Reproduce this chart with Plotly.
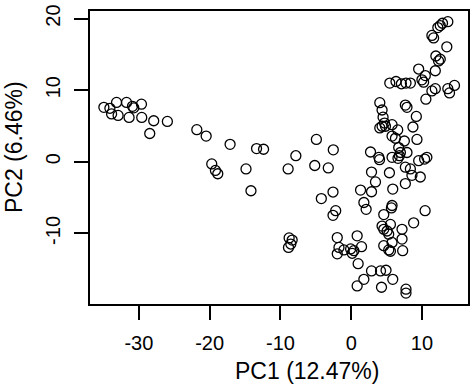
import plotly.graph_objects as go

pc1 = [-34.94, -34.09, -33.15, -31.74, -30.90, -30.72, -29.63, -33.85, -32.93, -31.38,
       -29.59, -27.90, -25.97, -28.46, -21.81, -20.49, -17.11, -19.70, -19.18, -18.85,
       -13.37, -12.38, -14.86, -14.16, -7.82, -8.91, -4.92, -2.53, -5.15, -3.24,
       -2.57, -4.22, -2.19, -2.57, -8.77, -8.34, -8.53, -8.86, 13.65, 12.90,
       12.58, 12.24, 11.40, 11.64, 13.51, 11.96, 12.58, 12.34, 9.53, 10.47,
       11.88, 9.99, 10.23, 5.45, 6.33, 7.09, 7.74, 8.36, 11.88, 11.40,
       13.65, 14.59, 13.89, 10.55, 4.04, 4.36, 4.50, 4.70, 4.04, 4.36,
       4.84, 5.77, 7.65, 7.88, 9.20, 8.72, 6.57, 5.77, 6.25, 7.51,
       9.29, 2.73, 3.90, 4.00, 6.71, 6.95, 6.81, 6.61, 5.77, 7.88,
       10.69, 10.37, 9.53, 7.65, 8.36, 8.58, 9.76, 7.65, 2.87, 5.40,
       3.43, 1.32, 2.87, 5.87, 1.79, 2.11, 5.77, 5.68, 8.82, 4.60,
       4.36, 4.60, 5.07, 5.54, 5.30, 7.18, 7.18, 7.27, 5.77, 4.60,
       5.30, 5.54, -1.97, 0.84, -1.73, -1.03, -1.97, -0.08, 0.38, 0.14,
       1.46, 0.98, 2.87, 4.14, 4.92, 1.79, 0.84, 5.87, 4.28, 7.74,
       7.74, 10.44]

pc2 = [7.60, 7.47, 8.29, 8.29, 7.74, 7.53, 8.05, 6.68, 6.47, 6.19,
       6.19, 5.73, 5.64, 3.95, 4.49, 3.59, 2.44, -0.30, -1.21, -1.67,
       1.85, 1.75, -0.99, -4.04, 0.85, -0.99, 3.12, 1.67, -0.52, -0.85,
       -4.22, -5.14, -6.82, -7.47, -10.62, -10.93, -11.48, -11.95, 19.56, 19.34,
       19.01, 18.74, 17.64, 17.29, 16.05, 14.77, 14.32, 14.08, 12.95, 12.03,
       12.71, 11.44, 11.12, 10.99, 11.21, 10.89, 10.99, 10.99, 10.21, 9.89,
       10.21, 10.66, 9.62, 8.74, 8.25, 7.23, 6.23, 5.41, 4.73, 4.96,
       4.96, 5.18, 7.92, 7.60, 6.33, 4.86, 4.45, 3.59, 3.29, 2.90,
       3.12, 1.37, 0.62, 0.30, 1.99, 1.30, 0.85, 0.48, 0.62, 1.30,
       0.62, 0.38, 0.16, -0.75, -0.99, -1.89, -2.12, -3.04, -1.44, -1.53,
       -2.81, -3.95, -4.18, -3.81, -5.68, -6.64, -6.10, -6.44, -8.52, -7.37,
       -8.97, -9.42, -9.66, -8.74, -10.11, -9.42, -10.79, -12.40, -11.26, -11.71,
       -12.30, -12.49, -10.58, -10.34, -11.95, -12.30, -12.85, -12.16, -12.40, -12.77,
       -11.85, -14.22, -15.23, -15.23, -15.14, -16.41, -17.33, -16.41, -17.51, -17.78,
       -18.33, -6.82]

x_tick_vals = [-30, -20, -10, 0, 10]
x_tick_text = ["-30", "-20", "-10", "0", "10"]
y_tick_vals = [-10, 0, 10, 20]
y_tick_text = ["-10", "0", "10", "20"]
x_title = "PC1 (12.47%)"
y_title = "PC2 (6.46%)"

FONT = "Liberation Sans, Arial, sans-serif"

fig = go.Figure(go.Scatter(
    x=pc1, y=pc2, mode="markers",
    marker=dict(symbol="circle-open", size=10, color="black", line=dict(width=1.3)),
    showlegend=False, hoverinfo="skip",
))

axis_common = dict(
    showline=True, mirror=True, linecolor="black", linewidth=2,
    ticks="outside", ticklen=14, tickwidth=2, tickcolor="black",
    showgrid=False, zeroline=False,
    tickfont=dict(family=FONT, size=20, color="black"),
)

fig.update_xaxes(range=[-36.9, 16.5], tickvals=x_tick_vals, ticktext=x_tick_text,
                 ticklabelstandoff=6, **axis_common)
fig.update_yaxes(range=[-19.85, 21.05], tickvals=y_tick_vals, ticktext=y_tick_text,
                 tickangle=-90, ticklabelstandoff=6, **axis_common)

W, H = 474, 386
L, R, T, B = 90, 4, 7, 82
pw, ph = W - L - R, H - T - B

fig.add_annotation(text=x_title, xref="paper", yref="paper",
                   x=(308 - L) / pw, y=-(372 - (H - B)) / ph,
                   xanchor="center", yanchor="middle", showarrow=False,
                   font=dict(family=FONT, size=23, color="black"))
fig.add_annotation(text=y_title, xref="paper", yref="paper",
                   x=(13.5 - L) / pw, y=((H - B) - 145) / ph,
                   xanchor="center", yanchor="middle", textangle=-90, showarrow=False,
                   font=dict(family=FONT, size=23, color="black"))

fig.update_layout(
    width=W, height=H,
    margin=dict(l=L, r=R, t=T, b=B),
    paper_bgcolor="white", plot_bgcolor="white",
)

fig.write_html("out.html", config={"displayModeBar": False},
               post_script="document.body.style.margin='0px';document.body.style.overflow='hidden';")
